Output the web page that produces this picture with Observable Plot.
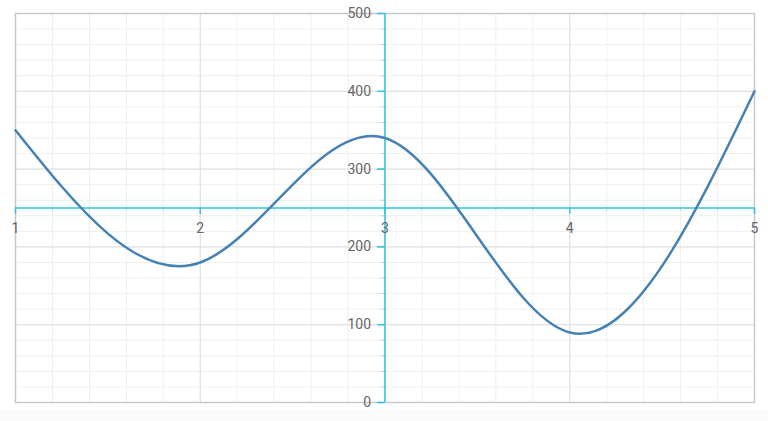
<!DOCTYPE html>
<html><head><meta charset="utf-8">
<script src="https://cdn.jsdelivr.net/npm/d3@7"></script>
<script src="https://cdn.jsdelivr.net/npm/@observablehq/plot@0.6"></script>
<style>
html,body{margin:0;padding:0;background:#fafafa;}
#chart{background:#fff;width:768px;height:410px;}
svg{display:block;}
</style></head>
<body><div id="chart"></div>
<script>
const xValues = [1, 2, 3, 4, 5];
const yValues = [350, 180, 340, 90, 400];
const xTicks = [1, 2, 3, 4, 5];
const yTicks = [0, 100, 200, 300, 400, 500];
const xMinor = d3.range(1, 5.0001, 0.2);
const yMinor = d3.range(0, 500.1, 20);
const data = xValues.map((x, i) => ({x, y: yValues[i]}));

const axisColor = "#2ec5de";
const crossX = 3, crossY = 250;

const chart = Plot.plot({
  width: 768, height: 410,
  marginLeft: 15, marginRight: 14, marginTop: 13, marginBottom: 8,
  style: {fontFamily: "Roboto, sans-serif", fontSize: "14px", background: "#fff"},
  x: {domain: [1, 5], axis: null},
  y: {domain: [0, 500], axis: null},
  marks: [
    Plot.ruleX(xMinor, {stroke: "#efefef", strokeWidth: 1}),
    Plot.ruleY(yMinor, {stroke: "#efefef", strokeWidth: 1}),
    Plot.ruleX(xTicks, {stroke: "#dedede", strokeWidth: 1}),
    Plot.ruleY(yTicks, {stroke: "#dedede", strokeWidth: 1}),
    Plot.frame({stroke: "#c8c8c8", strokeWidth: 1.5}),
    // minor ticks on crossing axes
    Plot.ruleY(yMinor, {y: d => d, x1: crossX - 0.02, x2: crossX, stroke: "#ccc", strokeWidth: 1}),
    Plot.ruleX(xMinor, {x: d => d, y1: crossY, y2: crossY - 5, stroke: "#d4d4d4", strokeWidth: 1}),
    // axis lines
    Plot.ruleX([crossX], {stroke: axisColor, strokeWidth: 1.5}),
    Plot.ruleY([crossY], {stroke: axisColor, strokeWidth: 1.5}),
    // major ticks
    Plot.ruleY(yTicks, {y: d => d, x1: crossX - 0.04, x2: crossX, stroke: axisColor, strokeWidth: 1.5}),
    Plot.ruleX(xTicks, {x: d => d, y1: crossY, y2: crossY - 8, stroke: axisColor, strokeWidth: 1.5}),
    // labels
    Plot.text(yTicks, {x: crossX, y: d => d, text: d => String(d), dx: -14, textAnchor: "end", fill: "#666", fontSize: 14}),
    Plot.text(xTicks, {x: d => d, y: crossY, text: d => String(d), dy: 21, fill: "#666", fontSize: 14}),
    // series
    Plot.line(data, {x: "x", y: "y", curve: "natural", stroke: "#4682b4", strokeWidth: 2.5})
  ]
});
document.getElementById("chart").appendChild(chart);
</script></body></html>
